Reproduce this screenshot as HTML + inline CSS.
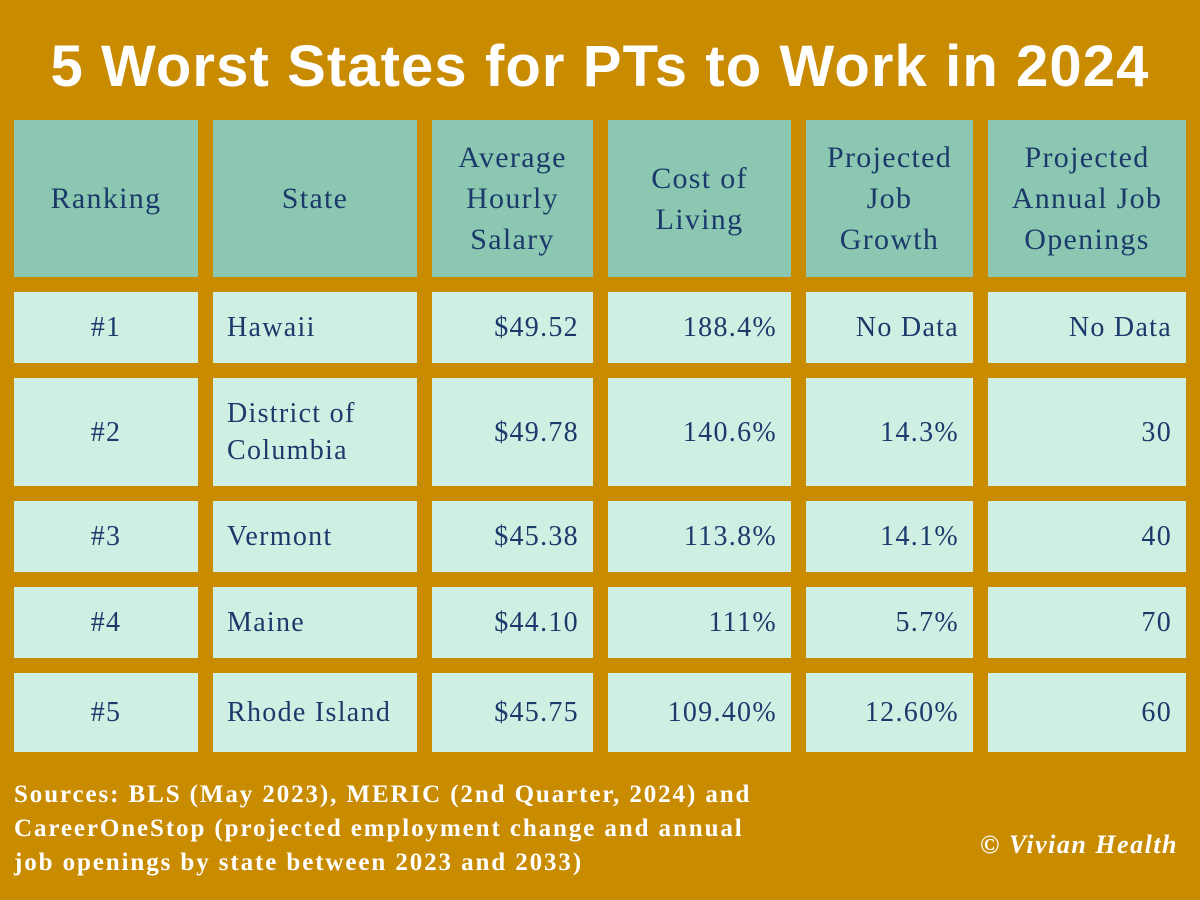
<!DOCTYPE html>
<html><head><meta charset="utf-8"><style>
body{margin:0;width:1200px;height:900px;background:#C98B00;position:relative;overflow:hidden;font-family:"Liberation Serif",serif;color:#1B3A6B}
.t{position:absolute;left:0;width:1200px;top:33px;text-align:center;color:#fff;font:bold 58px "Liberation Sans",sans-serif;letter-spacing:1.1px}
.c{position:absolute;box-sizing:border-box;display:flex;align-items:center;font-size:28px;line-height:37px;padding:0 14px;letter-spacing:1.3px}
.h{background:#8CC8B1;justify-content:center;text-align:center;font-size:30px;line-height:41px;letter-spacing:1.3px;padding:0 4px}
.b{background:#D0EFE3}
.l{justify-content:flex-start}.r{justify-content:flex-end;text-align:right}.m{justify-content:center}
.src{position:absolute;left:14px;top:778px;color:#fff;font-weight:bold;font-size:25px;line-height:34px;letter-spacing:1.9px;white-space:nowrap}
.cp{position:absolute;right:22px;top:830px;color:#fff;font-weight:bold;font-style:italic;font-size:26px;letter-spacing:1.5px}
</style></head><body>
<div class="t">5 Worst States for PTs to Work in 2024</div>
<div class="c h" style="left:14px;top:120px;width:184px;height:157px">Ranking</div>
<div class="c h" style="left:213px;top:120px;width:204px;height:157px">State</div>
<div class="c h" style="left:432px;top:120px;width:161px;height:157px">Average<br>Hourly<br>Salary</div>
<div class="c h" style="left:608px;top:120px;width:183px;height:157px">Cost of<br>Living</div>
<div class="c h" style="left:806px;top:120px;width:167px;height:157px">Projected<br>Job<br>Growth</div>
<div class="c h" style="left:988px;top:120px;width:198px;height:157px">Projected<br>Annual Job<br>Openings</div>
<script>
var rows=[[292,71,"#1","Hawaii","$49.52","188.4%","No Data","No Data"],
[378,108,"#2","District of<br>Columbia","$49.78","140.6%","14.3%","30"],
[501,71,"#3","Vermont","$45.38","113.8%","14.1%","40"],
[587,71,"#4","Maine","$44.10","111%","5.7%","70"],
[673,79,"#5","Rhode Island","$45.75","109.40%","12.60%","60"]];
var cols=[[14,184,"m"],[213,204,"l"],[432,161,"r"],[608,183,"r"],[806,167,"r"],[988,198,"r"]];
var h="";
rows.forEach(function(r){cols.forEach(function(c,i){h+='<div class="c b '+c[2]+'" style="left:'+c[0]+'px;top:'+r[0]+'px;width:'+c[1]+'px;height:'+r[1]+'px">'+r[i+2]+'</div>';});});
document.write(h);
</script>
<div class="src">Sources: BLS (May 2023), MERIC (2nd Quarter, 2024) and<br>CareerOneStop (projected employment change and annual<br>job openings by state between 2023 and 2033)</div>
<div class="cp">© Vivian Health</div>
</body></html>
